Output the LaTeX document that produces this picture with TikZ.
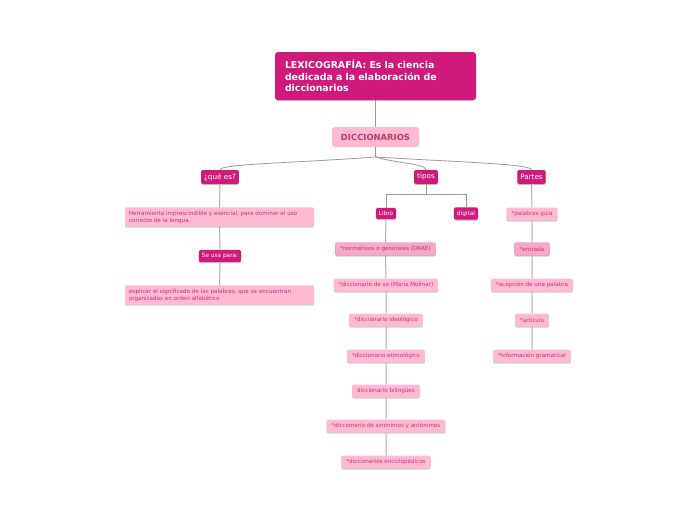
\documentclass[tikz,border=0pt]{standalone}
\usepackage{fontspec}
\setmainfont{DejaVu Sans}
\usetikzlibrary{shadows}
\definecolor{mapMag}{HTML}{CF1A7B}
\definecolor{mapPink}{HTML}{FFB9D1}
\definecolor{mapPinkSel}{HTML}{F5A9C4}
\definecolor{mapText}{HTML}{C2356F}
\definecolor{mapLine}{HTML}{9A9A9A}
\begin{document}
\begin{tikzpicture}[x=1pt,y=-1pt,
    line/.style={draw=mapLine,line width=0.8pt},
    chain/.style={draw=mapLine!80,line width=1pt},
    shad/.style={drop shadow={shadow xshift=0pt,shadow yshift=-1.2pt,fill=black!40,opacity=0.5}},
    topic/.style={fill=mapMag,text=white,rounded corners=3pt,shad,font=\bfseries\fontsize{9.4}{11.5}\selectfont,align=left,text width=181pt,inner xsep=10pt,minimum height=48pt},
    central/.style={fill=mapPink,text=mapText,rounded corners=3pt,font=\bfseries\fontsize{8.4}{9}\selectfont,minimum width=87pt,minimum height=20pt},
    branch/.style={fill=mapMag,text=white,rounded corners=1.5pt,shad,font=\fontsize{7.2}{8}\selectfont,minimum height=14pt,inner xsep=3pt},
    small/.style={fill=mapMag,text=white,rounded corners=1.5pt,shad,font=\fontsize{5.8}{6.5}\selectfont,minimum height=11pt,inner xsep=3pt},
    leaf/.style={fill=mapPink,text=mapText,rounded corners=1.5pt,shad,font=\fontsize{5.6}{7}\selectfont,minimum height=13pt,inner xsep=5pt},
    leafsel/.style={leaf,fill=mapPinkSel,draw=mapPink!70!mapMag,line width=0.4pt},
    note/.style={leaf,align=left,text width=181pt,minimum height=19pt,inner xsep=4pt},
  ]
  \useasboundingbox (0,0) rectangle (697,520);

  % main topic
  \node[topic] (lexico) at (375.5,76) {LEXICOGRAFÍA: Es la ciencia\\dedicada a la elaboración de\\diccionarios};
  \node[central] (dicc) at (375.5,137) {DICCIONARIOS};
  \coordinate (hub) at (375.5,157);

  % main branches
  \node[branch] (quees) at (220,177) {¿qué es?};
  \node[branch] (tipos) at (426,177) {tipos};
  \node[branch] (partes) at (531.5,177) {Partes};

  % que es
  \node[note] (herram) at (219.5,217) {Herramienta imprescindible y esencial, para dominar el uso\\correcto de la lengua.};
  \node[small] (seusa) at (220,256) {Se usa para:};
  \node[note] (explicar) at (219.5,295) {explicar el significado de las palabras, que se encuentran\\organizadas en orden alfabético};

  % tipos
  \node[small] (libro) at (386,213.5) {Libro};
  \node[small] (digital) at (466,213.5) {digital};
  \node[leafsel] (t1) at (385.5,249) {*normativos o generales (DRAE)};
  \node[leaf] (t2) at (386,285) {*diccionario de so (Maria Molinar)};
  \node[leaf] (t3) at (386,320) {*diccionario ideológico};
  \node[leaf] (t4) at (386,356) {*diccionario etimológico};
  \node[leaf] (t5) at (386,391) {diccionario bilingües};
  \node[leaf] (t6) at (386,426) {*diccionario de sinónimos y antónimos};
  \node[leaf] (t7) at (386,462) {*diccionarios enciclopédicos};

  % partes
  \node[leaf] (p1) at (532,214) {*palabras guía};
  \node[leafsel] (p2) at (532,249) {*entrada};
  \node[leaf] (p3) at (532,285) {*acepción de una palabra};
  \node[leaf] (p4) at (532,320) {*artículo};
  \node[leaf] (p5) at (532,356) {*información gramatical};

  % connectors
  \draw[line] (lexico) -- (dicc);
  \draw[line,line width=1.2pt] (dicc) -- (hub);
  \draw[line] (hub) .. controls +(-80,6) and +(0,-6) .. (quees.north);
  \draw[line] (hub) .. controls +(20,6) and +(0,-6) .. (tipos.north);
  \draw[line] (hub) .. controls +(80,5) and +(0,-6) .. (partes.north);
  \draw[line] (tipos.south) -- ++(0,10) -| (libro.north);
  \draw[line] (tipos.south) -- ++(0,10) -| (digital.north);
  \draw[chain] (quees) -- (herram) -- (seusa) -- (explicar);
  \draw[chain] (libro) -- (t1) -- (t2) -- (t3) -- (t4) -- (t5) -- (t6) -- (t7);
  \draw[chain] (partes) -- (p1) -- (p2) -- (p3) -- (p4) -- (p5);
\end{tikzpicture}
\end{document}
